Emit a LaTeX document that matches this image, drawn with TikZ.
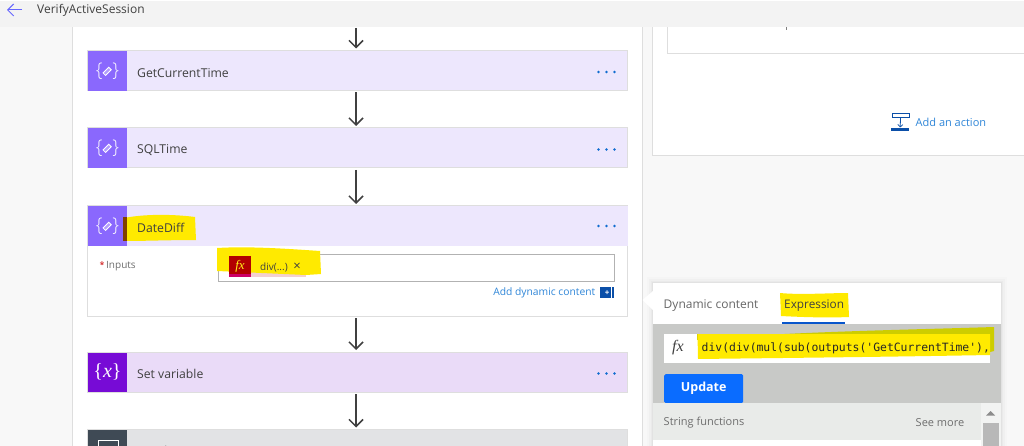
\documentclass[tikz,border=0pt]{standalone}
\usepackage{fontspec}
\setmainfont{Open Sans}
\newfontfamily\monof{DejaVu Sans Mono}
\newfontfamily\serifi{Liberation Serif}
\newfontfamily\lightf{Open Sans Light}
\usetikzlibrary{arrows.meta}
\definecolor{hdr}{HTML}{F3F3F3}
\definecolor{pagebg}{HTML}{F8F8F8}
\definecolor{edge}{HTML}{DEDEDE}
\definecolor{lilac}{HTML}{EDE7FD}
\definecolor{lilacicon}{HTML}{8A68FD}
\definecolor{setbg}{HTML}{EADBF8}
\definecolor{seticon}{HTML}{770BD6}
\definecolor{condbg}{HTML}{E2E3E5}
\definecolor{condicon}{HTML}{3F4A55}
\definecolor{txt}{HTML}{404040}
\definecolor{muted}{HTML}{6E6E6E}
\definecolor{linkc}{HTML}{2F86D8}
\definecolor{dotc}{HTML}{0F6CD0}
\definecolor{dark}{HTML}{0B4FA8}
\definecolor{marker}{HTML}{FFEA00}
\definecolor{olive}{HTML}{CDCD00}
\definecolor{panel}{HTML}{C8C9C7}
\definecolor{rowbg}{HTML}{E9EBE9}
\definecolor{btn}{HTML}{0A6CFF}
\tikzset{
  x=1pt,y=-1pt,
  box/.style={draw=#1,line width=1pt,inner sep=0pt,outer sep=0pt,anchor=north west},
  cardtitle/.style={inner sep=0pt,anchor=west,text=txt,font=\fontsize{12.2}{14}\selectfont},
  flow/.style={draw=black!75,line width=1.5pt,-{Straight Barb[length=7pt,width=14pt,line width=1.5pt]},shorten >=2pt,shorten <=2pt},
  ui/.style={inner sep=0pt,anchor=west,font=\fontsize{12}{14}\selectfont},
  iconglyph/.style={inner sep=0pt,text=white,font=\lightf\fontsize{19}{19}\selectfont}
}
\newcommand{\threedots}[1]{%
  \fill[dotc] (598.5,#1) circle (1.4) (606.5,#1) circle (1.4) (614.5,#1) circle (1.4);}
\newcommand{\pencilicon}[1]{%
  \node[iconglyph] at (#1) {\{\hspace{10pt}\}};
  \draw[white,line width=.8pt,fill=white,fill opacity=.35,rotate around={-45:(#1)}] ([xshift=-1.8pt,yshift=-4.5pt]#1) rectangle ([xshift=1.8pt,yshift=3.5pt]#1);}
\begin{document}
\begin{tikzpicture}
\useasboundingbox (0,0) rectangle (1024,446);
\clip (0,0) rectangle (1024,446);
% page background
\fill[pagebg] (0,0) rectangle (1024,446);
\fill[white] (73,27) rectangle (642,446);
\draw[edge,line width=1pt] (72.5,27) -- (72.5,446);
\draw[edge,line width=1pt] (642.5,27) -- (642.5,446);
% right scope box
\fill[white] (652,27) rectangle (1024,155.5);
\draw[edge,line width=1pt] (652.5,27) -- (652.5,155.5) -- (1024,155.5);
\draw[edge,line width=1pt] (667.5,27) -- (667.5,53.5) -- (1024,53.5);
\fill[gray] (785.5,27) rectangle (786.5,30);
% add an action
\node[draw=dark,line width=1pt,inner sep=0pt,minimum width=17pt,minimum height=4pt,anchor=north west] (addtop) at (891.5,113) {};
\node[fill=dark,inner sep=0pt,minimum width=18pt,minimum height=3.5pt,anchor=north west] (addbar) at (891,127.5) {};
\draw[dark,line width=.8pt,-{Straight Barb[length=2.5pt,width=5pt,line width=.7pt]}] (addtop.south) -- (addbar.north);
\node[ui,text=linkc,font=\fontsize{11}{13}\selectfont] (addaction) at (915.5,122.5) {Add an action};
% header
\fill[hdr] (0,1.5) rectangle (1024,27);
\fill[white] (0,0) rectangle (1024,1.5);
\coordinate (backR) at (22,10);
\coordinate (backL) at (7,10);
\draw[blue!60!white,line width=1pt,-{Straight Barb[length=6pt,width=12pt,line width=1pt]}] (backR) -- (backL);
\node[ui,text=txt] (title) at (37,10.5) {VerifyActiveSession};
% cards
\node[box=edge,fill=lilac,minimum width=540pt,minimum height=40pt] (current) at (87.5,50.5) {};
\fill[lilacicon] (88,51) rectangle (127,91);
\pencilicon{107.5,71}
\node[cardtitle] (currentT) at (137,73) {GetCurrentTime};
\threedots{72}

\node[box=edge,fill=lilac,minimum width=540pt,minimum height=40pt] (sql) at (87.5,128) {};
\fill[lilacicon] (88,128.5) rectangle (127,168);
\pencilicon{107.5,148}
\node[cardtitle] (sqlT) at (137,150) {SQLTime};
\threedots{149.5}

\node[box=edge,fill=white,minimum width=540pt,minimum height=110pt] (diff) at (87.5,206) {};
\fill[lilac] (88,206.5) rectangle (627.5,246);
\fill[lilacicon] (88,206.5) rectangle (127,246);
\pencilicon{107.5,226}
\threedots{226}
% highlight on DateDiff
\fill[marker] (124,218) .. controls (150,213) and (180,215) .. (195,217) -- (196,240) .. controls (170,240) and (145,241) .. (124,241) -- cycle;
\fill[black!50!orange] (123,217) rectangle (127,241);
\node[cardtitle] (diffT) at (137,227.5) {DateDiff};
% inputs field
\node[ui,text=muted,font=\fontsize{10}{12}\selectfont] (inputs) at (106,266) {Inputs};
\node[inner sep=0pt,text=red!80!black,font=\fontsize{9}{9}\selectfont] (star) at (102,265.5) {*};
\node[box=black!30,fill=white,minimum width=396pt,minimum height=27pt] (field) at (218,254.5) {};
\fill[black!8!pink!60] (251,256) rectangle (306,277);
\fill[purple!80!magenta] (229,256) rectangle (251,277);
\fill[marker] (217,248) .. controls (250,246) and (290,249) .. (320,251) -- (321,274) -- (306,275) -- (217,271) -- cycle;
\fill[red!70!black] (229,256) rectangle (251,274);
\node[inner sep=0pt,text=yellow!90!white,font=\serifi\itshape\fontsize{13}{13}\selectfont] (chipfx) at (240,266) {fx};
\node[ui,text=txt,font=\fontsize{10}{12}\selectfont] (chipT) at (260,267.5) {div(...)};
\node[inner sep=0pt,text=txt,font=\fontsize{13}{13}\selectfont] (chipX) at (297,267) {×};
\node[inner sep=0pt,anchor=east,text=linkc,font=\fontsize{10.3}{12}\selectfont] (adddyn) at (595.5,293) {Add dynamic content};
\node[fill=dark,inner sep=0pt,minimum width=14pt,minimum height=11pt,anchor=north west,text=white,font=\bfseries\fontsize{8}{8}\selectfont] (plus) at (600,287) {+};
\fill[white] (611,287) rectangle (612,298);

\node[box=edge,fill=setbg,minimum width=540pt,minimum height=40pt] (setv) at (87.5,352) {};
\fill[seticon] (88,352.5) rectangle (127,392);
\node[iconglyph,font=\serifi\fontsize{20}{20}\selectfont] (setglyph) at (107.5,372) {\{\textit{x}\}};
\node[cardtitle] (setT) at (137,374) {Set variable};
\threedots{373.5}

\node[box=edge,fill=condbg,minimum width=540pt,minimum height=40pt] (cond) at (87.5,429.5) {};
\fill[condicon] (88,430) rectangle (127,446);
\draw[white,line width=1pt] (98,440.5) rectangle (118,446);
\node[cardtitle] (condT) at (137,451) {Condition};
% connectors run down one spine
\coordinate (start) at (356,26);
\draw[flow] (start) -- (start |- current.north);
\draw[flow] (start |- current.south) -- (start |- sql.north);
\draw[flow] (start |- sql.south) -- (start |- diff.north);
\draw[flow] (start |- diff.south) -- (start |- setv.north);
\draw[flow] (start |- setv.south) -- (start |- cond.north);
% popup
\foreach \s/\o in {6/.012,4/.018,2/.025,1/.03}{
  \fill[black,opacity=\o] (653-\s,283-\s) rectangle (1001+\s,446);
}
\fill[white] (653,283) rectangle (1001,446);
\fill[white] (653,291) -- (642.5,300) -- (653,310) -- cycle;
\node[ui,text=txt!80!white] (tabdyn) at (663.5,305.5) {Dynamic content};
\fill[marker] (780,293) .. controls (800,295) and (830,293) .. (848,293) -- (849,317) .. controls (825,318) and (800,317) .. (781,316) -- cycle;
\node[ui,text=txt,font=\fontsize{11.8}{14}\selectfont] (tabexp) at (784,305.5) {Expression};
\fill[btn!80!black] (782,322) rectangle (845,324);
\fill[panel] (653,324) rectangle (1001,403);
\fill[white] (664,334) rectangle (990,363);
\node[inner sep=0pt,text=txt,font=\serifi\itshape\fontsize{16}{16}\selectfont] (exprfx) at (678,348) {fx};
\fill[olive] (697,340) .. controls (780,332) and (900,330) .. (994,327) -- (994,351) -- (990,352) -- (990,334) -- (697,334) -- cycle;
\fill[marker] (697.5,334) -- (990,334) -- (990,355) .. controls (880,357) and (780,358) .. (698,359) -- cycle;
\node[inner sep=0pt,anchor=west,text=black!85,font=\monof\fontsize{11.4}{13}\selectfont] (expr) at (701.5,348) {div(div(mul(sub(outputs('GetCurrentTime'),};
\node[fill=btn,rounded corners=1.5pt,inner sep=0pt,minimum width=79pt,minimum height=29pt,anchor=north west,text=white,font=\bfseries\fontsize{12.5}{14}\selectfont] (update) at (664,374) {Update};
\fill[rowbg] (653,403) rectangle (981,440);
\fill[rowbg!60!white] (981,403) rectangle (1001,446);
\node[ui,text=muted,font=\fontsize{11}{13}\selectfont] (strfn) at (663.5,422.5) {String functions};
\node[ui,text=muted,font=\fontsize{11}{13}\selectfont] (seemore) at (915.5,422.5) {See more};
\fill[black!45] (986,415.5) -- (990.5,411) -- (995,415.5) -- cycle;
\fill[black!28] (983,423) rectangle (999,446);
\end{tikzpicture}
\end{document}
